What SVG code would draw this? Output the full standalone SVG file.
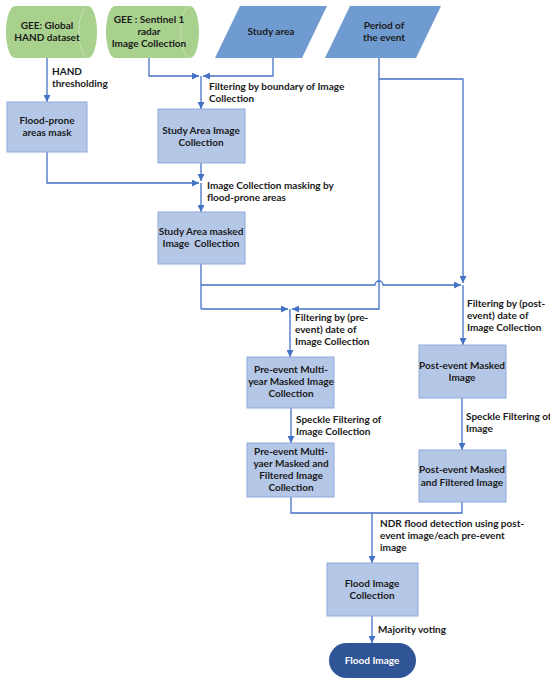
<svg xmlns="http://www.w3.org/2000/svg" width="550" height="684" viewBox="0 0 550 684">
<defs>
<marker id="ah" viewBox="0 0 10 10" refX="10" refY="5" markerWidth="7" markerHeight="7" markerUnits="userSpaceOnUse" orient="auto">
<path d="M0,0 L10,5 L0,10 Z" fill="#4472c4"/>
</marker>
<style>
text{font-family:Lato,"Liberation Sans",sans-serif;font-weight:bold;font-size:10px;fill:#1a1a1a}
.c{text-anchor:middle}
.box{fill:#b4c7e7;stroke:#8faadc;stroke-width:1}
.cyl{fill:#a9d18e}
.cap{fill:none;stroke:#c5e0b4;stroke-width:1}
.par{fill:#6f9bd0}
.ln{fill:none;stroke:#4472c4;stroke-width:1.3}
.ar{marker-end:url(#ah)}
.w{fill:#ffffff}
</style>
</defs>
<rect width="550" height="684" fill="#ffffff"/>
<g id="connectors">
<path class="ln ar" d="M47,58 V102"/>
<path class="ln ar" d="M149,58 V76 H199"/>
<path class="ln ar" d="M273,58 V76 H203"/>
<path class="ln ar" d="M201,76 V109"/>
<path class="ln ar" d="M47,152 V183 H199"/>
<path class="ln ar" d="M201,163 V181"/>
<path class="ln ar" d="M201,183 V212"/>
<path class="ln" d="M201,264 V309"/>
<path class="ln ar" d="M201,285 H375 A4,4 0 0 1 383,285 H461"/>
<path class="ln ar" d="M201,309 H288"/>
<path class="ln ar" d="M379,58 V309 H292"/>
<path class="ln ar" d="M379,79 H463 V283"/>
<path class="ln ar" d="M463,285 V345"/>
<path class="ln ar" d="M290,309 V357"/>
<path class="ln ar" d="M291,408 V443"/>
<path class="ln ar" d="M462,398 V450"/>
<path class="ln" d="M291,497 V513 H462 V502"/>
<path class="ln ar" d="M372,513 V563"/>
<path class="ln ar" d="M372,616 V643"/>
</g>
<g id="labels">
<text x="52" y="75">HAND</text>
<text x="52" y="87">thresholding</text>
<text x="209" y="90">Filtering by boundary of Image</text>
<text x="209" y="102">Collection</text>
<text x="207" y="189">Image Collection masking by</text>
<text x="207" y="201">flood-prone areas</text>
<text x="467" y="307">Filtering by (post-</text>
<text x="467" y="319">event) date of</text>
<text x="467" y="331">Image Collection</text>
<text x="295" y="321">Filtering by (pre-</text>
<text x="295" y="333">event) date of</text>
<text x="295" y="345">Image Collection</text>
<text x="296" y="423">Speckle Filtering of</text>
<text x="296" y="435">Image Collection</text>
<text x="466" y="420">Speckle Filtering of</text>
<text x="466" y="432">Image</text>
<text x="380" y="527">NDR flood detection using post-</text>
<text x="380" y="539">event image/each pre-event</text>
<text x="380" y="551">image</text>
<text x="378" y="633">Majority voting</text>
</g>
<g id="hand">
<path class="cyl" d="M15,6 H88 A9,26 0 0 1 88,58 H15 A9,26 0 0 1 15,6 Z"/>
<path class="cap" d="M88,6 A9,26 0 0 0 88,58"/>
<text class="c" x="47" y="29">GEE: Global</text>
<text class="c" x="47" y="41">HAND dataset</text>
</g>
<g id="sentinel">
<path class="cyl" d="M115,6 H190 A9,26 0 0 1 190,58 H115 A9,26 0 0 1 115,6 Z"/>
<path class="cap" d="M190,6 A9,26 0 0 0 190,58"/>
<text class="c" x="149" y="23">GEE : Sentinel 1</text>
<text class="c" x="149" y="35">radar</text>
<text class="c" x="149" y="47">Image Collection</text>
</g>
<g id="study-area">
<path class="par" d="M240,6 H327 L302,58 H215 Z"/>
<text class="c" x="271" y="35">Study area</text>
</g>
<g id="period">
<path class="par" d="M350,6 H441 L416,58 H325 Z"/>
<text class="c" x="384" y="29">Period of</text>
<text class="c" x="384" y="41">the event</text>
</g>
<g id="flood-prone">
<rect class="box" x="7" y="102" width="80" height="50"/>
<text class="c" x="47" y="124">Flood-prone</text>
<text class="c" x="47" y="136">areas mask</text>
</g>
<g id="study-collection">
<rect class="box" x="158" y="109" width="87" height="54"/>
<text class="c" x="201" y="134">Study Area Image</text>
<text class="c" x="201" y="146">Collection</text>
</g>
<g id="masked-collection">
<rect class="box" x="158" y="212" width="87" height="52"/>
<text class="c" x="201" y="235">Study Area masked</text>
<text class="c" x="201" y="247" xml:space="preserve">Image  Collection</text>
</g>
<g id="pre-masked">
<rect class="box" x="247" y="357" width="87" height="51"/>
<text class="c" x="291" y="373">Pre-event Multi-</text>
<text class="c" x="291" y="385">year Masked Image</text>
<text class="c" x="291" y="397">Collection</text>
</g>
<g id="post-masked">
<rect class="box" x="419" y="345" width="87" height="53"/>
<text class="c" x="462" y="369">Post-event Masked</text>
<text class="c" x="462" y="381">Image</text>
</g>
<g id="pre-filtered">
<rect class="box" x="247" y="443" width="87" height="54"/>
<text class="c" x="291" y="455">Pre-event Multi-</text>
<text class="c" x="291" y="467">yaer Masked and</text>
<text class="c" x="291" y="479">Filtered Image</text>
<text class="c" x="291" y="491">Collection</text>
</g>
<g id="post-filtered">
<rect class="box" x="419" y="450" width="87" height="52"/>
<text class="c" x="462" y="473">Post-event Masked</text>
<text class="c" x="462" y="486">and Filtered Image</text>
</g>
<g id="flood-collection">
<rect class="box" x="327" y="563" width="91" height="53"/>
<text class="c" x="372" y="587">Flood Image</text>
<text class="c" x="372" y="599">Collection</text>
</g>
<g id="flood-image">
<rect x="329" y="643" width="87" height="35" rx="17.5" fill="#2f5597"/>
<text class="c w" x="372" y="664">Flood Image</text>
</g>
</svg>
